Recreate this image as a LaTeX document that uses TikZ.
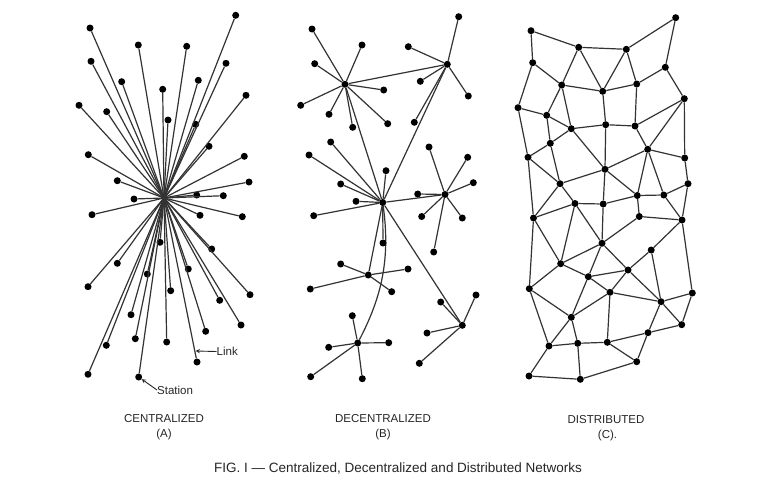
\documentclass[tikz,border=0pt]{standalone}
\usepackage{fontspec}
\setmainfont{Liberation Sans}
\usetikzlibrary{positioning}

\begin{document}
\begin{tikzpicture}[x=1pt,y=-1pt,
    stn/.style={circle,fill=black,inner sep=0pt,minimum size=7pt},
    link/.style={draw=black!80,line width=1.2pt},
    lbl/.style={inner sep=0pt,text=black!85,font=\fontsize{11.5}{13}\selectfont},
    lead/.style={draw=black!85,line width=0.9pt,-stealth}
  ]
    \useasboundingbox[fill=white] (0,0) rectangle (768,490);

    % centralized network
    \coordinate (ca) at (164,198);
    \foreach \n/\x/\y in {1/90/28, 2/235.7/15.3, 3/138.3/45, 4/186.7/46.3,
        5/91/61.3, 6/226/63.3, 7/121.7/81.7, 8/198.3/80.3, 9/162.7/89.3,
        10/79/105.3, 11/106.7/111.7, 12/246/95.3, 13/168/120, 14/195.7/124.3,
        15/209/146.3, 16/88.3/154.7, 17/244.3/156.3, 18/117.3/180.7,
        19/249/182, 20/196.7/195, 21/223.3/195.7, 22/134/199, 23/92/214.7,
        24/200/215.3, 25/242.3/216.7, 26/160/242.3, 27/211.7/249,
        28/117.3/263.3, 29/147.3/274, 30/188.3/269, 31/88/286.7,
        32/170.7/290.7, 33/250/294.7, 34/219.7/300.3, 35/131/314.7,
        36/241/325, 37/205.7/331.3, 38/135.3/338.7, 39/166.7/342,
        40/106.3/345.3, 41/197/362, 42/88/374.3, 43/138.7/377}
      \node[stn] (a\n) at (\x,\y) {};
    \foreach \n in {1,...,43}
      \draw[link] (ca) -- (a\n);

    % link and station callouts
    \coordinate (lk) at (195.6,351);
    \node[lbl,anchor=west] (linktxt) at (216.5,351.5) {Link};
    \draw[lead] (linktxt.west) -- (lk);
    \node[lbl,anchor=west] (stattxt) at (157,390) {Station};
    \draw[lead] (stattxt.west) -- (a43);

    % decentralized network: hubs
    \node[stn] (b1) at (345,84.3) {};
    \node[stn] (b2) at (447.3,64.3) {};
    \node[stn] (b3) at (382.7,202.5) {};
    \node[stn] (b4) at (445,194.5) {};
    \node[stn] (b5) at (368.3,275) {};
    \node[stn] (b6) at (357.7,343) {};
    \node[stn] (b7) at (462.3,325.3) {};

    % trunks between hubs
    \draw[link] (b1) -- (b2);
    \draw[link] (b1) -- (b3);
    \draw[link] (b2) -- (b3);
    \draw[link] (b3) -- (b4);
    \draw[link] (b3) -- (b5);
    \draw[link] (b3) -- (b7);
    \draw[link] (b3) .. controls (391,262) and (380,300) .. (b6);

    % stations round each hub
    \foreach \h/\n/\x/\y in {1/1/312/29, 1/2/362/45, 1/3/314.7/63.7,
        1/4/383.7/90, 1/5/300.7/105.3, 1/6/329/114.3, 1/7/352.7/127.3,
        1/8/387.7/123.7,
        2/1/458.7/16.7, 2/2/408.3/46.7, 2/3/420.3/81.3, 2/4/468.3/96,
        2/5/414.3/122.3,
        3/1/330.7/142, 3/2/309/155, 3/3/386/170.7, 3/4/340.7/184,
        3/5/356/201.3, 3/6/313.7/215.7, 3/7/383/243,
        4/1/429/147, 4/2/467.7/157.3, 4/3/473.3/182.7, 4/4/417.7/194,
        4/5/421.7/216.5, 4/6/462.3/218, 4/7/433.7/252,
        5/1/340.7/264, 5/2/408/269, 5/3/310.3/289, 5/4/391.7/291.7,
        6/1/352.3/315.7, 6/2/328.7/347.3, 6/3/388.7/342.7, 6/4/310.7/376.7,
        6/5/362.3/378.7,
        7/1/440.7/302, 7/2/476/295, 7/3/427/333, 7/4/419.3/363.3}
    {
      \node[stn] (b\h s\n) at (\x,\y) {};
      \draw[link] (b\h) -- (b\h s\n);
    }

    % distributed network
    \foreach \n/\x/\y in {1/531/30.7, 2/675.7/17.7, 3/578.7/47.3,
        4/626.3/49.3, 5/532.7/62.7, 6/665.3/67.3, 7/561.7/85, 8/602.7/91.3,
        9/636.7/84, 10/518/107.7, 11/546.7/115.3, 12/684.3/98.7,
        13/571.3/128.7, 14/605.7/124.7, 15/635/126, 16/550.3/143.3,
        17/647.7/149.3, 18/528/157.3, 19/684.7/158, 20/605/169.3,
        21/560/183.7, 22/688/183.7, 23/637.3/195.5, 24/663.8/195,
        25/575/203.5, 26/603.2/204, 27/533.5/218, 28/639.3/216.5,
        29/682/220, 30/602/243.3, 31/651.2/250, 32/560.7/263.7,
        33/628/270, 34/588.3/276.7, 35/529.3/288.7, 36/610/292.3,
        37/692.3/293, 38/661/301.7, 39/571.3/317.3, 40/681.7/324.7,
        41/648/332.7, 42/549/346, 43/577.7/343.3, 44/607.3/342.3,
        45/636.7/361.7, 46/529/376, 47/580.3/379.3}
      \node[stn] (c\n) at (\x,\y) {};
    \foreach \u/\v in {1/3, 1/5, 3/4, 4/2, 2/6, 3/7, 3/8, 4/8, 4/9, 5/7,
        5/10, 6/9, 6/12, 7/8, 8/9, 7/11, 7/13, 8/14, 9/15, 10/11, 10/18,
        11/13, 11/16, 13/14, 14/15, 15/12, 12/17, 12/19, 15/17, 16/13,
        16/18, 16/21, 13/20, 14/20, 17/20, 17/19, 17/23, 17/24, 19/22,
        20/21, 18/21, 20/23, 20/26, 22/24, 23/24, 21/27, 21/25, 18/27,
        22/29, 24/29, 25/26, 25/27, 26/23, 23/28, 28/29, 25/30, 25/32,
        26/30, 27/32, 27/35, 28/30, 29/31, 31/33, 31/38, 30/32, 30/34,
        30/33, 32/34, 34/33, 32/35, 33/36, 34/36, 34/39, 33/38, 36/38,
        36/39, 36/44, 35/39, 35/42, 38/37, 29/37, 37/40, 38/40, 38/41,
        41/40, 41/44, 41/45, 39/42, 39/43, 42/43, 43/44, 44/45, 42/46,
        43/47, 46/47, 47/45}
      \draw[link] (c\u) -- (c\v);

    % titles
    \node[lbl] (ta) at (164,419) {CENTRALIZED};
    \node[lbl,below=6pt of ta] (tas) {(A)};
    \node[lbl] (tb) at (383,419) {DECENTRALIZED};
    \node[lbl,below=6pt of tb] (tbs) {(B)};
    \node[lbl] (tc) at (606,420) {DISTRIBUTED};
    \node[lbl,below=6pt of tc,xshift=1.5pt] (tcs) {(C).};
    \node[lbl,font=\fontsize{13.5}{15}\selectfont] (fig) at (398,468)
      {FIG. I \textemdash{} Centralized, Decentralized and Distributed Networks};
\end{tikzpicture}
\end{document}
